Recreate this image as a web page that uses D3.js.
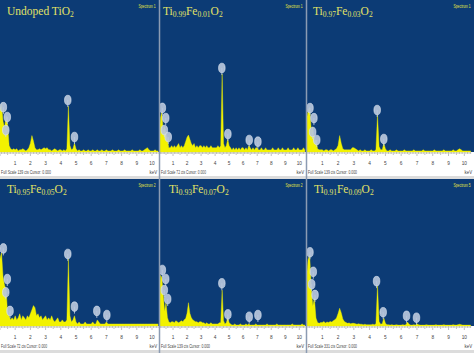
<!DOCTYPE html>
<html><head><meta charset="utf-8">
<script src="https://cdn.jsdelivr.net/npm/d3@7"></script>
<style>html,body{margin:0;padding:0;background:#dcdcdc;}svg{display:block}</style>
</head><body>
<svg id="c" width="474" height="353"></svg>
<script>
// ---------- DATA ----------
const titles = [
  [["Undoped TiO",0],["2",1]],
  [["Ti",0],["0.99",1],["Fe",0],["0.01",1],["O",0],["2",1]],
  [["Ti",0],["0.97",1],["Fe",0],["0.03",1],["O",0],["2",1]],
  [["Ti",0],["0.95",1],["Fe",0],["0.05",1],["O",0],["2",1]],
  [["Ti",0],["0.93",1],["Fe",0],["0.07",1],["O",0],["2",1]],
  [["Ti",0],["0.91",1],["Fe",0],["0.09",1],["O",0],["2",1]]
];
const spectrumNames = ["Spectrum 1","Spectrum 1","Spectrum 1","Spectrum 2","Spectrum 2","Spectrum 5"];
const fullScales = [139, 72, 139, 72, 139, 331];
const tickLabels = [1,2,3,4,5,6,7,8,9,10];
const energyStep = 0.1; // keV per channel below

// counts per 0.1 keV channel, 0.0 .. 10.4 keV
const spec1 = [38,44,28,22,33,25,6,3,2,3, 2,3,1,2,2,3,2,1,2,4, 8,15,10,4,2,2,3,2,3,4, 3,4,2,2,1,2,3,2,1,2,
  2,1,2,1,3,42,6,2,3,8, 3,1,2,1,1,2,1,1,2,1, 1,2,1,1,2,1,1,2,1,1, 2,1,1,1,2,1,1,1,2,1, 1,1,2,1,1,1,1,2,1,1,
  1,1,2,1,1,2,3,4,2,1, 1,1,2,1,1];
const spec2 = [6,16,19,10,12,9,6,2,2,3, 2,3,2,3,4,2,3,2,3,5, 7,8,6,4,3,4,2,3,2,3, 3,2,3,2,3,2,2,3,2,2,
  2,2,3,2,3,37,4,2,3,6, 3,2,1,2,1,2,1,2,1,2, 2,1,2,1,3,2,1,2,1,2, 2,1,1,2,1,1,2,1,1,1, 1,2,1,1,1,2,1,1,2,1,
  1,1,2,1,1,1,2,1,1,2, 1,1,1,2,1];
const spec3 = [30,38,41,20,23,10,11,3,2,2, 2,1,2,2,1,2,2,1,2,3, 6,15,8,3,2,2,2,2,2,4, 4,3,2,1,2,1,1,2,1,1,
  1,2,1,1,2,34,5,2,2,8, 3,1,1,2,1,1,1,2,1,1, 1,1,2,1,1,1,1,1,2,1, 1,1,1,1,2,1,1,1,1,1, 1,2,1,1,1,1,1,2,1,1,
  1,1,1,2,1,1,2,3,2,1, 1,1,1,1,1];
const spec4 = [33,36,24,20,18,6,5,3,4,3, 5,3,4,6,3,5,4,3,5,4, 6,8,10,9,5,6,4,5,3,4, 5,3,4,3,5,3,2,3,4,2,
  2,3,2,2,3,33,5,2,3,5, 2,1,2,1,1,1,2,1,1,1, 1,2,1,1,3,2,1,1,1,1, 2,1,1,1,1,1,1,1,1,1, 1,1,1,1,1,1,1,1,1,1,
  1,1,1,1,1,1,1,1,1,1, 1,1,1,1,1];
const spec5 = [20,48,46,30,14,22,8,4,3,4, 4,3,5,4,3,4,5,4,6,7, 12,22,12,8,6,5,4,4,3,4, 4,3,3,2,3,2,2,3,2,2,
  2,2,2,3,3,34,5,2,3,8, 3,2,1,1,2,1,1,1,2,1, 1,1,2,1,2,1,1,1,1,2, 1,1,1,1,1,1,1,2,1,1, 1,1,1,1,2,1,1,1,1,1,
  1,1,1,1,1,2,1,1,1,1, 1,1,2,1,1];
const spec6 = [110,150,160,90,45,63,18,8,6,8, 8,10,7,9,8,10,9,12,14,18, 28,40,30,16,10,8,6,7,5,6, 6,5,4,5,4,4,3,4,3,3,
  3,3,4,3,5,92,10,4,5,18, 6,3,3,2,3,2,2,3,2,2, 2,3,2,3,9,4,2,2,3,2, 5,3,2,2,2,2,3,2,2,2, 2,2,3,2,2,2,2,3,2,2,
  2,2,2,3,2,2,3,4,3,2, 2,2,2,2,2];
const spectra = [spec1, spec2, spec3, spec4, spec5, spec6];

// element-line markers: [energy keV, counts]
const markers1 = [[0.22,41],[0.48,32],[0.38,20],[4.46,47.5],[4.9,13.7]];
const markers2 = [[0.24,20.9],[0.48,16.1],[0.38,10.4],[0.66,7.1],[4.48,39.8],[4.91,8.5],[6.43,5.7],[7.05,4.9]];
const markers3 = [[0.22,40.2],[0.47,31],[0.39,18.3],[0.65,11],[4.48,38.4],[4.9,11.9]];
const markers4 = [[0.22,38],[0.48,23],[0.38,16.5],[0.66,7.4],[4.46,35.3],[4.9,9.5],[6.37,7.4],[7.03,5.4]];
const markers5 = [[0.24,53],[0.48,44.5],[0.38,34],[0.62,25.5],[4.48,40.4],[4.91,11],[6.43,8.8],[7.05,10.4]];
const markers6 = [[0.22,166],[0.43,122],[0.33,94],[0.54,70],[4.44,101],[4.86,31],[6.34,23],[6.97,18.7]];
const markerSets = [markers1, markers2, markers3, markers4, markers5, markers6];

// ---------- LAYOUT ----------
const cols = [
  {x0:0,   x1:159, ox:0,     kpx:15.2},
  {x0:160, x1:306, ox:159,   kpx:14.03},
  {x0:307, x1:474, ox:306.5, kpx:15.78}
];
const rows = [{top:0, base:152, titleY:15}, {top:179, base:326, titleY:193}];
const titleXs = [7, 163, 313, 7, 169, 314];
const statusW = [50,45,49,46,49,49];

const svg = d3.select("#c");
const BLUE = "#0c3b75", YEL = "#f2f200", TITLE = "#e2e266";
const SANS = "Liberation Sans, Arial, sans-serif";

// white axis strips
rows.forEach(r => {
  svg.append("rect").attr("x",0).attr("y",r.base).attr("width",474).attr("height",24).attr("fill","#ffffff");
});

const defs = svg.append("defs");

for (let p = 0; p < 6; p++) {
  const c = cols[p % 3], r = rows[Math.floor(p / 3)];
  const x = d3.scaleLinear().domain([0, 10]).range([c.ox, c.ox + 10 * c.kpx]);
  const y = d3.scaleLinear().domain([0, fullScales[p]]).range([r.base, r.top]);
  const g = svg.append("g");

  defs.append("clipPath").attr("id","clip"+p).append("rect")
    .attr("x",c.x0).attr("y",r.top).attr("width",c.x1-c.x0).attr("height",r.base-r.top+1);

  g.append("rect").attr("x",c.x0).attr("y",r.top).attr("width",c.x1-c.x0).attr("height",r.base-r.top).attr("fill",BLUE);

  const data = spectra[p].map((v,i) => [i*energyStep, v]);
  const area = d3.area().x(d => x(d[0])).y0(r.base).y1(d => y(d[1])).curve(d3.curveLinear);
  g.append("path").datum(data).attr("d",area).attr("fill",YEL).attr("stroke",YEL).attr("stroke-width",0.4)
    .attr("clip-path","url(#clip"+p+")");

  // markers
  const mg = g.append("g").attr("clip-path","url(#clip"+p+")");
  markerSets[p].forEach(m => {
    const mx = x(m[0]), my = y(m[1]);
    mg.append("line").attr("x1",mx).attr("x2",mx).attr("y1",my).attr("y2",my+7)
      .attr("stroke","#c9d5e6").attr("stroke-width",0.8);
    mg.append("ellipse").attr("cx",mx).attr("cy",my).attr("rx",3.3).attr("ry",4.8)
      .attr("fill","#b8c7dc").attr("fill-opacity",0.92).attr("stroke","#dde6f2").attr("stroke-width",0.6);
  });

  // ticks
  const tg = svg.append("g");
  d3.range(0, 105).forEach(i => {
    const e = i * energyStep, tx = x(e);
    if (tx < c.x0 || tx > c.x1) return;
    const len = i % 10 === 0 ? 4 : (i % 5 === 0 ? 3 : 2);
    tg.append("line").attr("x1",tx).attr("x2",tx).attr("y1",r.base).attr("y2",r.base+len)
      .attr("stroke","#808080").attr("stroke-width",0.5);
  });
  tickLabels.forEach(t => {
    tg.append("text").attr("transform",`translate(${x(t)},${r.base+12.5}) scale(0.8,1)`).attr("text-anchor","middle")
      .attr("font-family",SANS).attr("font-size",6).attr("fill","#444").text(t);
  });
  tg.append("text").attr("x",c.x0+1).attr("y",r.base+21.5)
    .attr("font-family",SANS).attr("font-size",5.5).attr("fill","#444")
    .attr("textLength",statusW[p]).attr("lengthAdjust","spacingAndGlyphs")
    .text("Full Scale " + fullScales[p] + " cts Cursor: 0.000");
  tg.append("text").attr("transform",`translate(${c.x1-9.5},${r.base+21.5}) scale(0.8,1)`)
    .attr("font-family",SANS).attr("font-size",5.5).attr("fill","#444").text("keV");

  // spectrum name (condensed)
  g.append("text").attr("transform",`translate(${c.x1-20.5},${r.top+7.5}) scale(0.6,1)`)
    .attr("font-family",SANS).attr("font-size",5.6).attr("fill","#e6e640")
    .text(spectrumNames[p]);

  // title
  const t = g.append("text").attr("x",titleXs[p]).attr("y",r.titleY)
    .attr("font-family","Liberation Serif, Times New Roman, serif").attr("font-size",11.5).attr("fill",TITLE);
  titles[p].forEach((seg, i) => {
    const prevSub = i > 0 ? titles[p][i-1][1] : 0;
    const s = t.append("tspan").text(seg[0]);
    if (seg[1]) s.attr("font-size",7.5);
    s.attr("dy", seg[1] && !prevSub ? 2 : (!seg[1] && prevSub ? -2 : 0));
  });
}

// dividers
[159.5, 306.5].forEach(dx => {
  svg.append("line").attr("x1",dx).attr("x2",dx).attr("y1",0).attr("y2",353)
    .attr("stroke","#8b9bb3").attr("stroke-width",1.5);
});
</script>
</body></html>
